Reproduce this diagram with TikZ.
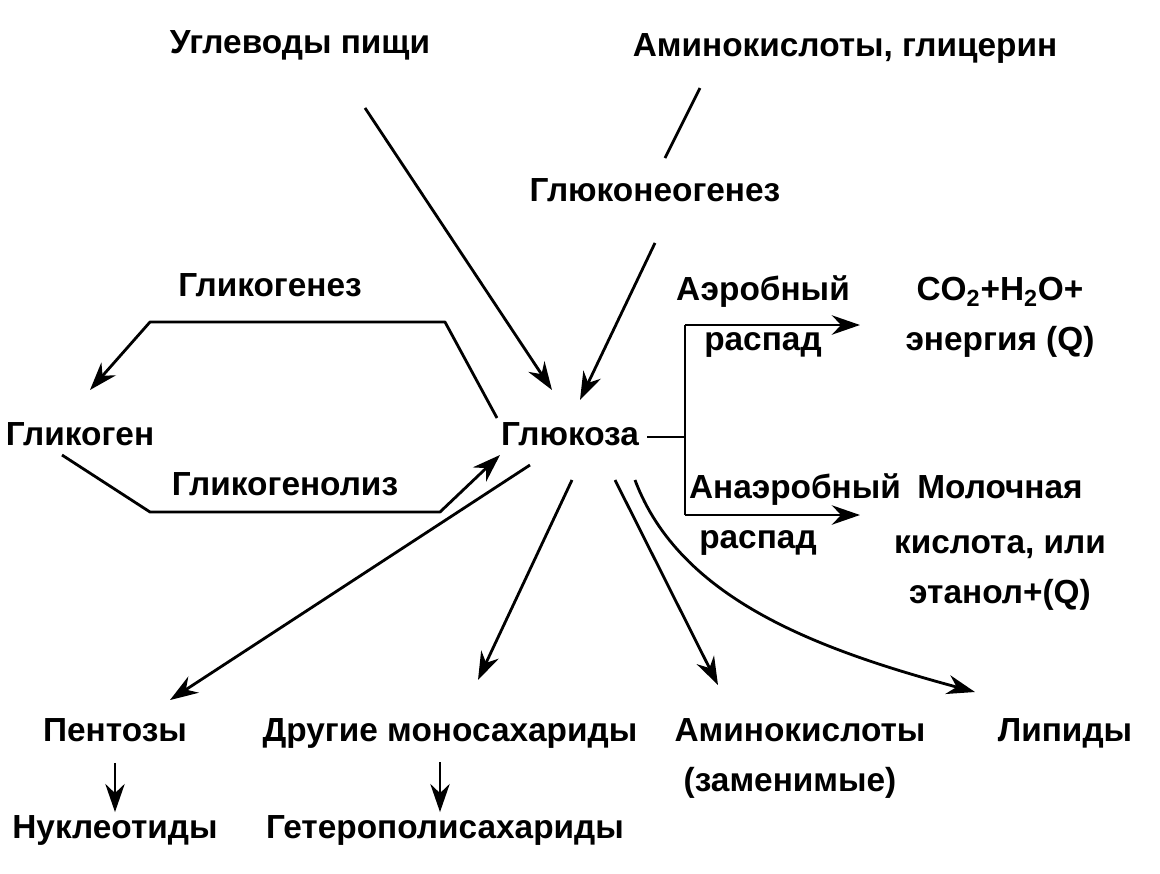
\documentclass[tikz,border=0pt]{standalone}
\usepackage{fontspec}
\setmainfont{Liberation Sans}
\usetikzlibrary{arrows.meta}
\tikzset{
  lbl/.style = {font=\fontsize{19}{23}\selectfont\bfseries, inner sep=1pt,
                text height=14pt, text depth=4pt},
  arr/.style = {line width=1.6pt, -{Stealth[length=16pt,width=11pt]}},
  ln/.style  = {line width=1.6pt}
}
\begin{document}
\begin{tikzpicture}[x=0.02cm, y=-0.02cm, line join = round]
\useasboundingbox (0,0) rectangle (1160,873);
% labels
\node[lbl] (uglevody) at (300,45)  {Углеводы пищи};
\node[lbl] (aminogl)  at (845,48)  {Аминокислоты, глицерин};
\node[lbl] (gng)      at (655,193) {Глюконеогенез};
\node[lbl] (glgenez)  at (270,288) {Гликогенез};
\node[lbl] (aer)      at (763,292) {Аэробный};
\node[lbl] (aerr)     at (763,342) {распад};
\node[lbl] (co2)      at (1000,292) {CO\textsubscript{2}+H\textsubscript{2}O+};
\node[lbl] (energy)   at (1000,342) {энергия (Q)};
\node[lbl] (glikogen) at (80,437)  {Гликоген};
\node[lbl] (glukoza)  at (570,437) {Глюкоза};
\node[lbl] (glliz)    at (285,487) {Гликогенолиз};
\node[lbl] (anaer)    at (795,490) {Анаэробный};
\node[lbl] (anaerr)   at (758,540) {распад};
\node[lbl] (moloch)   at (1000,490) {Молочная};
\node[lbl] (kisl)     at (1000,545) {кислота, или};
\node[lbl] (etanol)   at (1000,595) {этанол+(Q)};
\node[lbl] (pent)     at (115,733) {Пентозы};
\node[lbl] (mono)     at (450,733) {Другие моносахариды};
\node[lbl] (amino)    at (800,733) {Аминокислоты};
\node[lbl] (zamen)    at (790,783) {(заменимые)};
\node[lbl] (lipid)    at (1065,733) {Липиды};
\node[lbl] (nukl)     at (115,830) {Нуклеотиды};
\node[lbl] (getero)   at (445,830) {Гетерополисахариды};

% inputs to glucose
\draw[arr] (uglevody.south) ++(65,45) -- (552,390);
\draw[ln] (700,88) -- (665,158);
\draw[arr] (gng.south) ++(0,32) -- (580,400);

% glycogen cycle
\draw[arr] (497,418) -- (445,322) -- (150,322) -- (90,390);
\draw[arr] (62,455) -- (150,512) -- (440,512) -- (500,455);

% decay of glucose
\coordinate (fork) at (685,437);
\draw[ln] (glukoza.east) ++(6,0) -- (fork);
\draw[ln] (685,325) -- (685,515);
\draw[arr] (685,325) -- (860,325);
\draw[arr] (685,515) -- (860,515);

% products
\draw[arr] (530,465) -- (170,700);
\draw[arr] (572,480) -- (478,680);
\draw[arr] (615,480) -- (718,685);
\draw[arr] (635,480) .. controls (680,600) and (820,650) .. (975,692);
\draw[arr] (pent.south) ++(0,12) -- (nukl.north);
\draw[arr] (440,762) -- (getero.north -| 440,0);
\end{tikzpicture}
\end{document}
